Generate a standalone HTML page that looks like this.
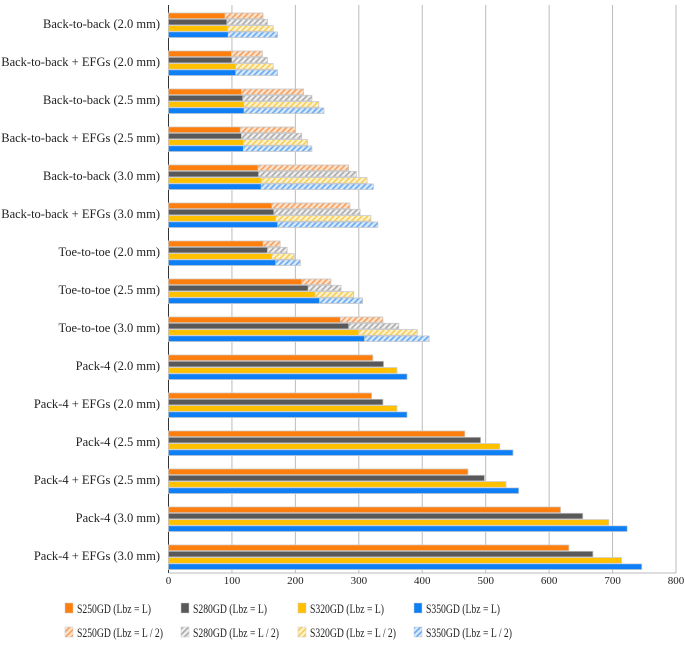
<!DOCTYPE html>
<html><head><meta charset="utf-8"><style>
body{margin:0;background:#fff;}
svg text{font-family:"Liberation Serif",serif;fill:#222;}
</style></head><body>
<svg id="chart" width="685" height="640">
<defs>
<pattern id="h0" patternUnits="userSpaceOnUse" width="4" height="4" patternTransform="rotate(45)"><rect width="4" height="4" fill="#fde3cc"/><rect width="1.6" height="4" fill="#f5a060"/></pattern>
<pattern id="h1" patternUnits="userSpaceOnUse" width="4" height="4" patternTransform="rotate(45)"><rect width="4" height="4" fill="#eee"/><rect width="1.6" height="4" fill="#aaa"/></pattern>
<pattern id="h2" patternUnits="userSpaceOnUse" width="4" height="4" patternTransform="rotate(45)"><rect width="4" height="4" fill="#fff3cc"/><rect width="1.6" height="4" fill="#f5cc55"/></pattern>
<pattern id="h3" patternUnits="userSpaceOnUse" width="4" height="4" patternTransform="rotate(45)"><rect width="4" height="4" fill="#d6e8fb"/><rect width="1.6" height="4" fill="#6aaaf0"/></pattern>
</defs>
<g id="grid"></g><g id="bars"></g><g id="labels"></g><g id="legend"></g>
</svg>
<script>
const categories=["Back-to-back (2.0 mm)","Back-to-back + EFGs (2.0 mm)","Back-to-back (2.5 mm)","Back-to-back + EFGs (2.5 mm)","Back-to-back (3.0 mm)","Back-to-back + EFGs (3.0 mm)","Toe-to-toe (2.0 mm)","Toe-to-toe (2.5 mm)","Toe-to-toe (3.0 mm)","Pack-4 (2.0 mm)","Pack-4 + EFGs (2.0 mm)","Pack-4 (2.5 mm)","Pack-4 + EFGs (2.5 mm)","Pack-4 (3.0 mm)","Pack-4 + EFGs (3.0 mm)"];
const s250L=[89,99,115,113,141,163,149,210,271,322,320,467,472,618,631];
const s280L=[92,100,117,115,142,166,156,220,284,339,338,492,498,653,669];
const s320L=[93,106,119,118,146,169,163,231,300,360,360,522,532,694,714];
const s350L=[94,106,119,118,146,172,169,238,309,376,376,543,552,723,746];
const s250H=[149,148,213,200,284,286,176,256,338,322,320,467,472,618,631];
const s280H=[156,156,226,210,296,302,187,272,363,339,338,492,498,653,669];
const s320H=[165,165,237,219,313,319,198,292,392,360,360,522,532,694,714];
const s350H=[172,172,245,226,323,330,208,306,411,376,376,543,552,723,746];
const xTicks=[0,100,200,300,400,500,600,700,800];
const legendLabels=["S250GD (Lbz = L)","S280GD (Lbz = L)","S320GD (Lbz = L)","S350GD (Lbz = L)","S250GD (Lbz = L / 2)","S280GD (Lbz = L / 2)","S320GD (Lbz = L / 2)","S350GD (Lbz = L / 2)"];
const NS="http://www.w3.org/2000/svg";
const X0=168.5,X1=676,Y0=5,Y1=573;
const x=v=>X0+v*(X1-X0)/800;
const band=38;
const yCat=i=>13+i*band;
const solidCol=["#ff7f0e","#595959","#ffc000","#0f7ff5"];
const mk=(t,a,p)=>{const e=document.createElementNS(NS,t);for(const k in a)e.setAttribute(k,a[k]);p.appendChild(e);return e;};
const grid=document.getElementById('grid'),bars=document.getElementById('bars'),labels=document.getElementById('labels'),leg=document.getElementById('legend');
xTicks.forEach(t=>{
 const l=mk('line',{x1:x(t),x2:x(t),y1:Y0,y2:Y1,stroke:t===0?'#333':'#bbb','stroke-width':1},grid);
 
 
 const tx=mk('text',{x:x(t),y:584,'text-anchor':'middle','font-size':11},labels);
 tx.textContent=t;
 
 
});
const mk2=mk('line',{x1:X0,x2:X1,y1:Y1,y2:Y1,stroke:'#bbb'},grid);


const solids=[s250L,s280L,s320L,s350L],hatched=[s250H,s280H,s320H,s350H];
categories.forEach((c,i)=>{
 const y=yCat(i);
 for(let s=0;s<4;s++){
  const by=y+s*6.3,h=5.6;
  const hb=mk('rect',{x:X0,y:by,width:x(hatched[s][i])-X0,height:h,fill:'url(#h'+s+')',stroke:'#c8c8c8','stroke-width':0.8},bars);
  
  
  const sb=mk('rect',{x:X0,y:by,width:x(solids[s][i])-X0,height:h,fill:solidCol[s],stroke:'#d0d0d0','stroke-width':0.6},bars);
  
  
 }
 const t=mk('text',{x:160,y:y+15,'text-anchor':'end','font-size':12.5},labels);
 t.textContent=c;
 
 
});
const lx=[65,181,298,414];
legendLabels.forEach((lab,k)=>{
 const col=k%4,row=Math.floor(k/4),yy=row?627:603;
 const r=mk('rect',{x:lx[col],y:yy,width:8,height:10,fill:row?'url(#h'+col+')':solidCol[col],stroke:'#ccc','stroke-width':0.5},leg);
 
 
 const t=mk('text',{x:lx[col]+12,y:yy+10,'font-size':12.5,textLength:row?86:74,lengthAdjust:'spacingAndGlyphs'},leg);
 t.textContent=lab;
 
 
});
</script>
</body></html>
